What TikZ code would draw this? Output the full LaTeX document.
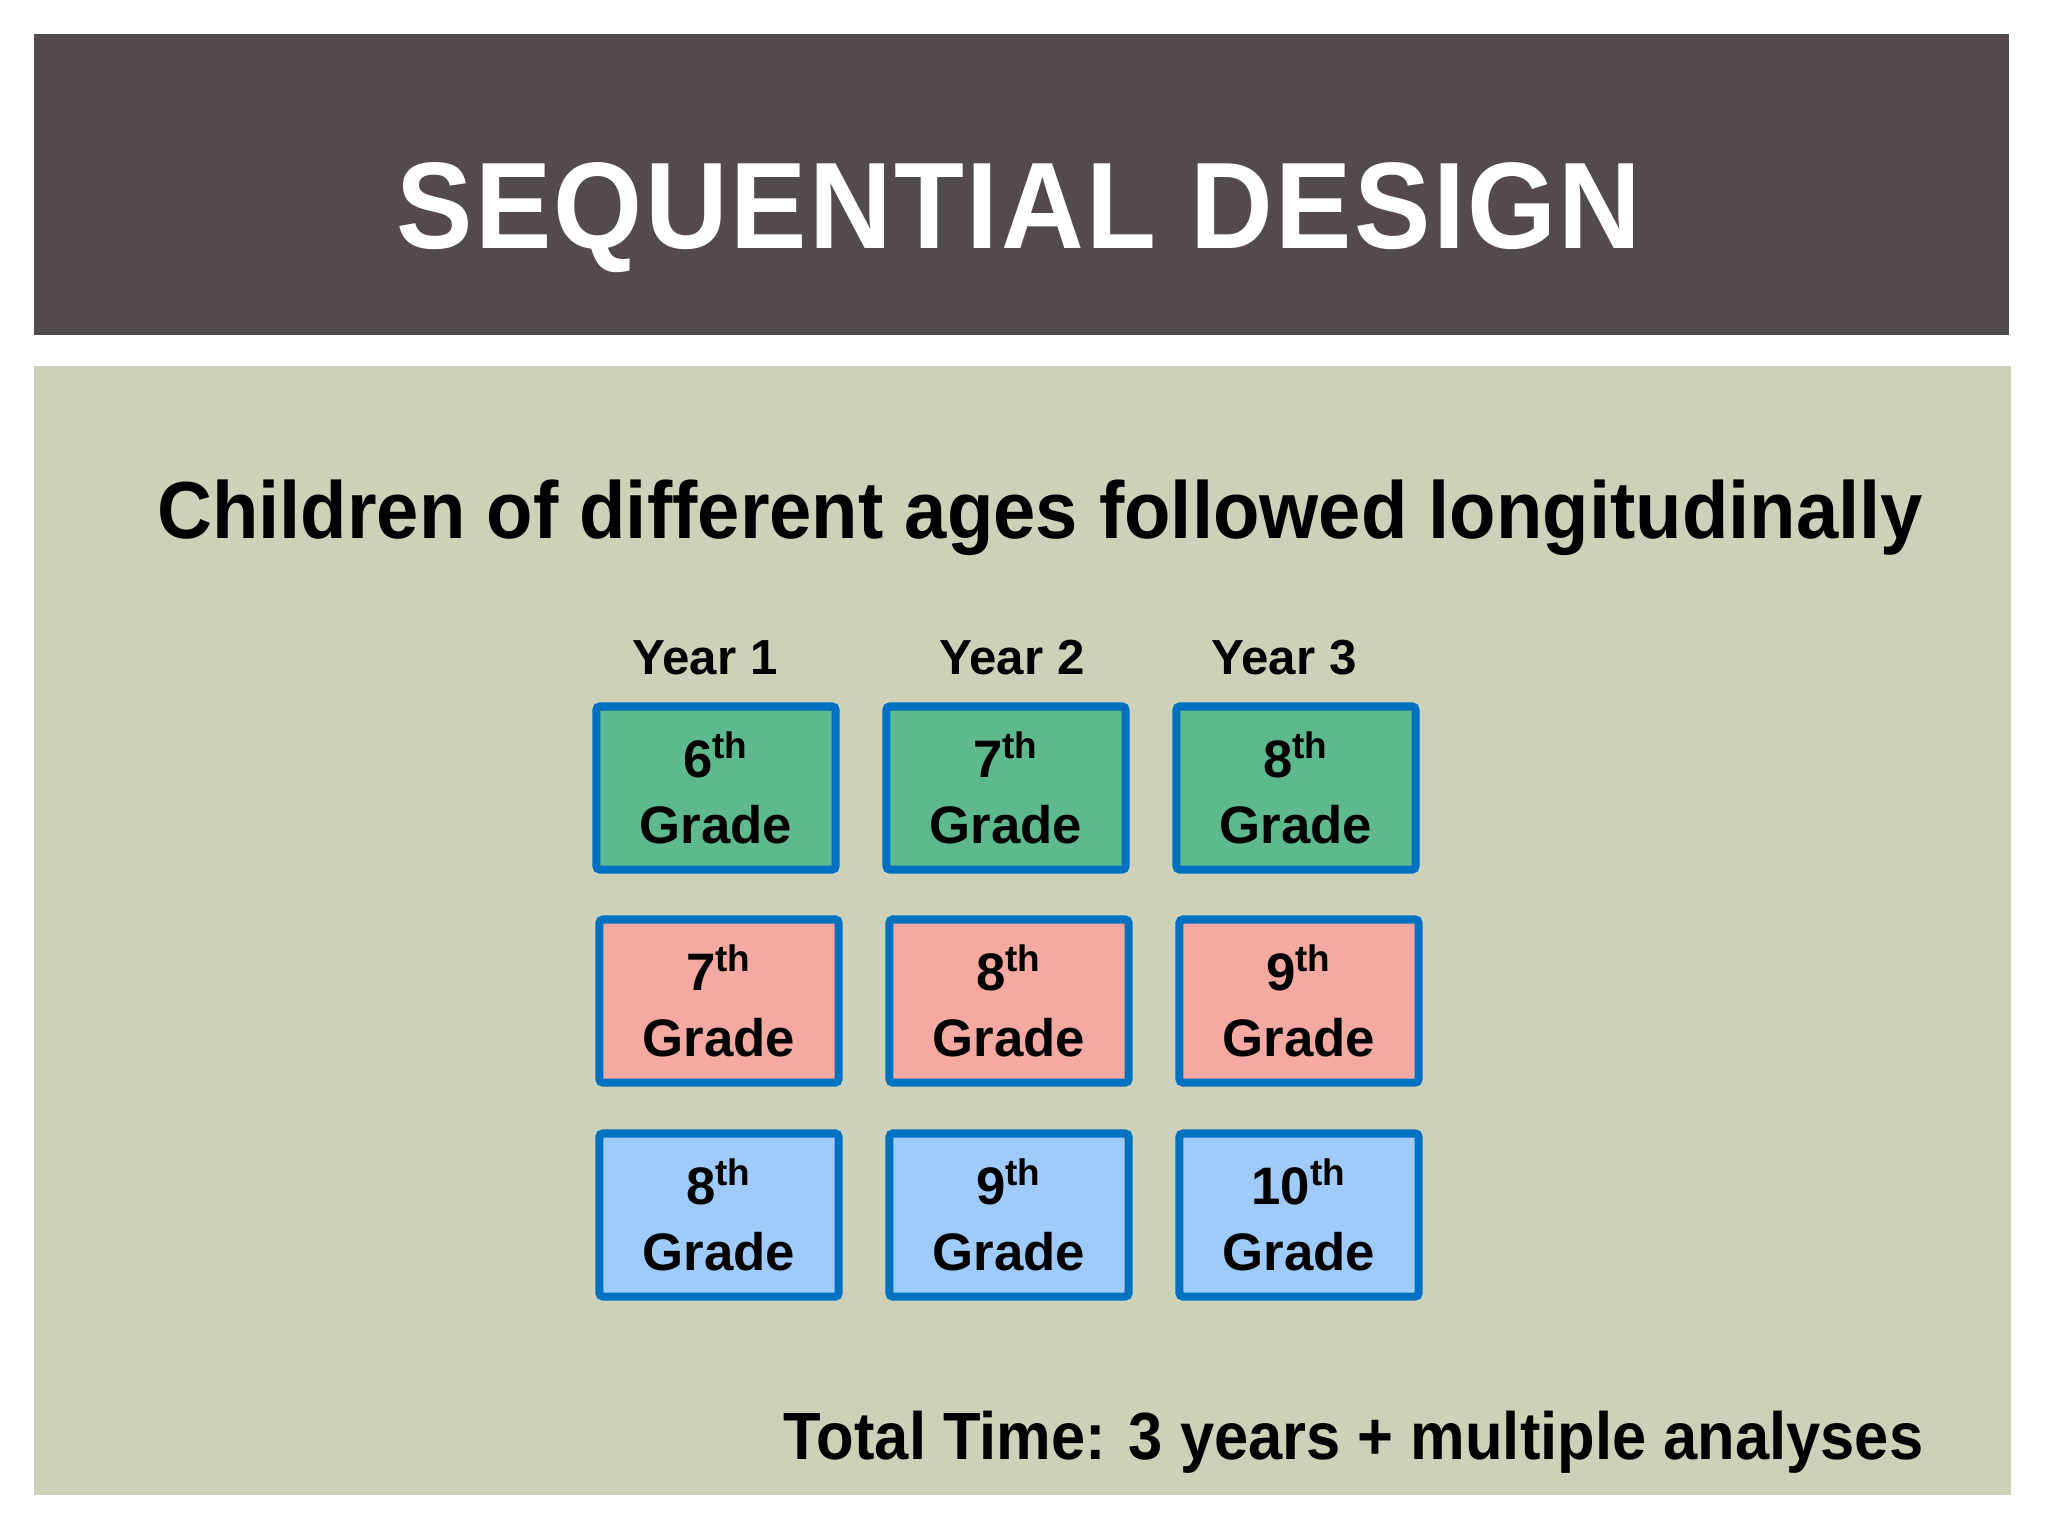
\documentclass[tikz,border=0pt]{standalone}
\usepackage{fontspec}
\setmainfont{Liberation Sans}
\definecolor{headbrown}{HTML}{534A4B}
\definecolor{panelsage}{HTML}{CDD1BA}
\definecolor{cohortA}{HTML}{5EBA8E}
\definecolor{cohortB}{HTML}{F4AAA2}
\definecolor{cohortC}{HTML}{9FCBFB}
\definecolor{edgeblue}{HTML}{0070C0}
\begin{document}
\begin{tikzpicture}[x=0.01cm, y=-0.01cm,
	grade/.style={draw=edgeblue, line width=2.3pt, rounded corners=1pt, minimum width=2.39cm, minimum height=1.63cm, inner sep=0pt, align=center, font=\fontsize{15}{18.8}\selectfont\bfseries},
	year/.style={anchor=base, inner sep=0pt, font=\fontsize{14}{16}\selectfont\bfseries}]
	\useasboundingbox[fill=white] (0,0) rectangle (2048,1536);
	\fill[headbrown] (34,34) rectangle (2009,335);
	\fill[panelsage] (34,366) rectangle (2011,1495);
	
	\node[anchor=base, inner sep=0pt, text=white, font=\fontsize{35}{40}\selectfont\bfseries\addfontfeatures{LetterSpace=2,FakeStretch=0.93}] (title) at (1019,248) {SEQUENTIAL DESIGN};
	\node[anchor=base, inner sep=0pt, font=\fontsize{23}{28}\selectfont\bfseries\addfontfeatures{FakeStretch=0.94}] (sub) at (1040,538) {Children of different ages followed longitudinally};
	
	\node[year] (year1) at (705,674) {Year 1};
	\node[year] (year2) at (1012,674) {Year 2};
	\node[year] (year3) at (1284,674) {Year 3};
	
	\foreach \r/\col/\y/\dx in {1/cohortA/788/0, 2/cohortB/1001/3, 3/cohortC/1215/3}
		\foreach \c in {1,2,3} {
			\pgfmathtruncatemacro{\g}{\r+\c+4}
			\node[grade, fill=\col] (g\r\c) at (716+290*\c-290+\dx,\y) {\g\textsuperscript{th}\\Grade};
		}
	
	\node[anchor=base east, inner sep=0pt, font=\fontsize{19}{23}\selectfont\bfseries\addfontfeatures{FakeStretch=0.92}] (total) at (1924,1459) {Total Time: 3 years + multiple analyses};
\end{tikzpicture}
\end{document}
